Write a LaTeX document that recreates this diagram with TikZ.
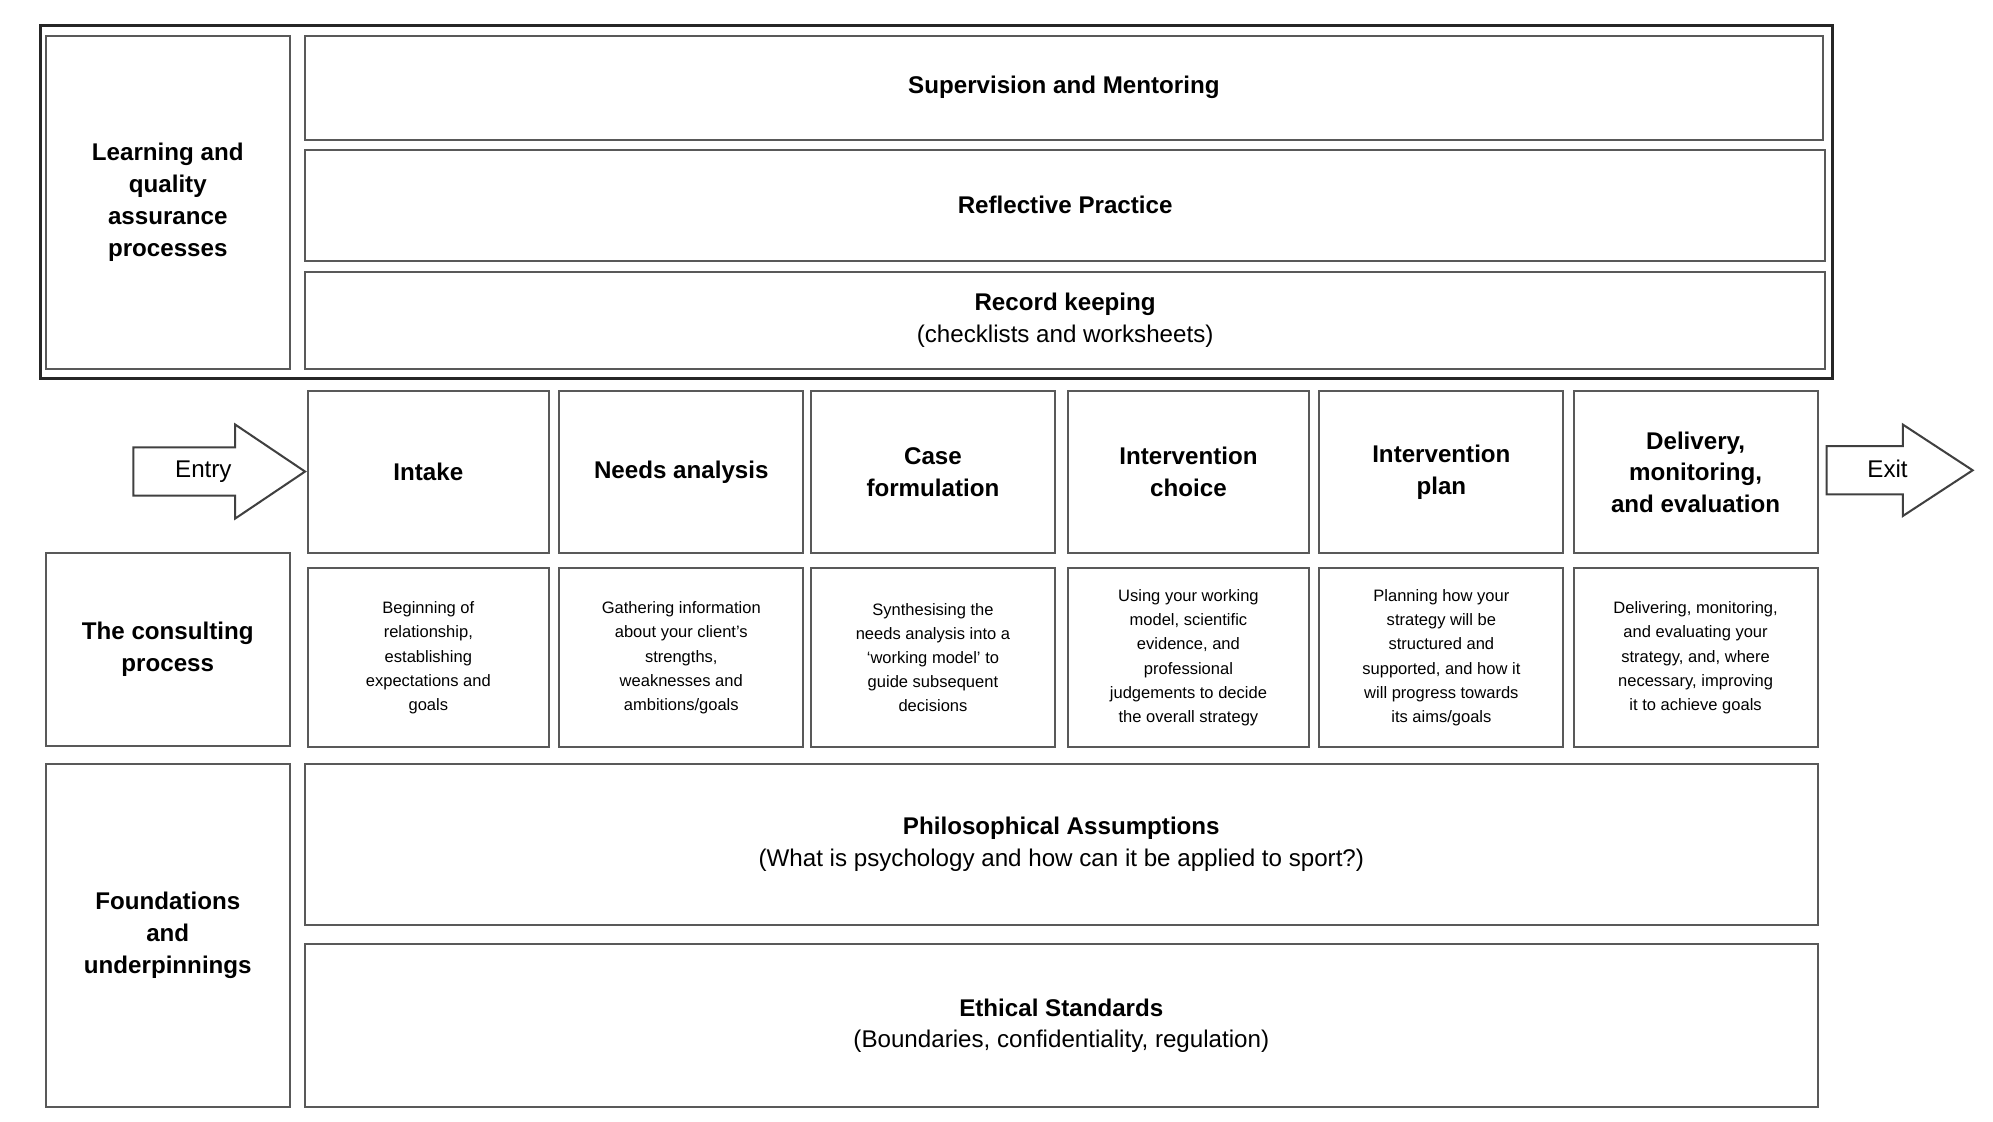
\documentclass[tikz,border=0pt]{standalone}
\usepackage{fontspec}
\setmainfont{Liberation Sans}
\begin{document}
\begin{tikzpicture}[x=1pt,y=-1pt,
  bx/.style={draw=black!65,line width=1.6pt,inner sep=0pt,align=center},
  big/.style={font=\fontsize{19}{25}\selectfont\bfseries},
  sub/.style={font=\fontsize{19}{25}\selectfont},
  dsc/.style={font=\fontsize{13}{19}\selectfont},
  arr/.style={draw=black!75,line width=1.6pt,fill=white}]
\useasboundingbox (0,0) rectangle (1568,882);
% outer frame
\draw[draw=black!85,line width=2.4pt] (32,20) rectangle (1442,298);
\node[bx,minimum width=192,minimum height=262,big] (lq) at (132,159) {Learning and\\quality\\assurance\\processes};
\node[bx,minimum width=1194,minimum height=82,big] (sup) at (837,69) {Supervision and Mentoring};
\node[bx,minimum width=1196,minimum height=87,big] (ref) at (838,161.5) {Reflective Practice};
\node[bx,sub,minimum width=1196,minimum height=76] (rec) at (838,252) {\textbf{Record keeping}\\(checklists and worksheets)};
% process row
\foreach \n/\xa/\xb/\t in {intake/242/432/{Intake},needs/440/632/{Needs analysis},case/638/830/{Case\\formulation},ichoice/840/1030/{Intervention\\choice},iplan/1038/1230/{Intervention\\plan},deliv/1238/1430/{Delivery,\\monitoring,\\and evaluation}}
  \node[bx,big,minimum width={\xb-\xa},minimum height=127] (\n) at ({(\xa+\xb)/2},371.5) {\t};
\foreach \n/\xa/\xb/\t in {dintake/242/432/{Beginning of\\relationship,\\establishing\\expectations and\\goals},dneeds/440/632/{Gathering information\\about your client's\\strengths,\\weaknesses and\\ambitions/goals},dcase/638/830/{Synthesising the\\needs analysis into a\\`working model' to\\guide subsequent\\decisions},dichoice/840/1030/{Using your working\\model, scientific\\evidence, and\\professional\\judgements to decide\\the overall strategy},diplan/1038/1230/{Planning how your\\strategy will be\\structured and\\supported, and how it\\will progress towards\\its aims/goals},ddeliv/1238/1430/{Delivering, monitoring,\\and evaluating your\\strategy, and, where\\necessary, improving\\it to achieve goals}}
  \node[bx,dsc,minimum width={\xb-\xa},minimum height=141] (\n) at ({(\xa+\xb)/2},517.5) {\t};
\node[bx,big,minimum width=192,minimum height=152] (cp) at (132,511) {The consulting\\process};
% foundations
\node[bx,big,minimum width=192,minimum height=270] (fu) at (132,736) {Foundations\\and\\underpinnings};
\node[bx,sub,minimum width=1190,minimum height=127] (phil) at (835,664.5) {\textbf{Philosophical Assumptions}\\(What is psychology and how can it be applied to sport?)};
\node[bx,sub,minimum width=1190,minimum height=128] (eth) at (835,807) {\textbf{Ethical Standards}\\(Boundaries, confidentiality, regulation)};
% arrows
\coordinate (entrytip) at (240,371);
\draw[arr] (105,352) -- (185,352) -- (185,334) -- (entrytip) -- (185,408) -- (185,390) -- (105,390) -- cycle;
\node[sub] (entry) at (160,371) {Entry};
\coordinate (exittip) at (1552,370);
\draw[arr] (1437,351) -- (1497,351) -- (1497,334) -- (exittip) -- (1497,406) -- (1497,389) -- (1437,389) -- cycle;
\node[sub] (exit) at (1485,369) {Exit};
\end{tikzpicture}
\end{document}
